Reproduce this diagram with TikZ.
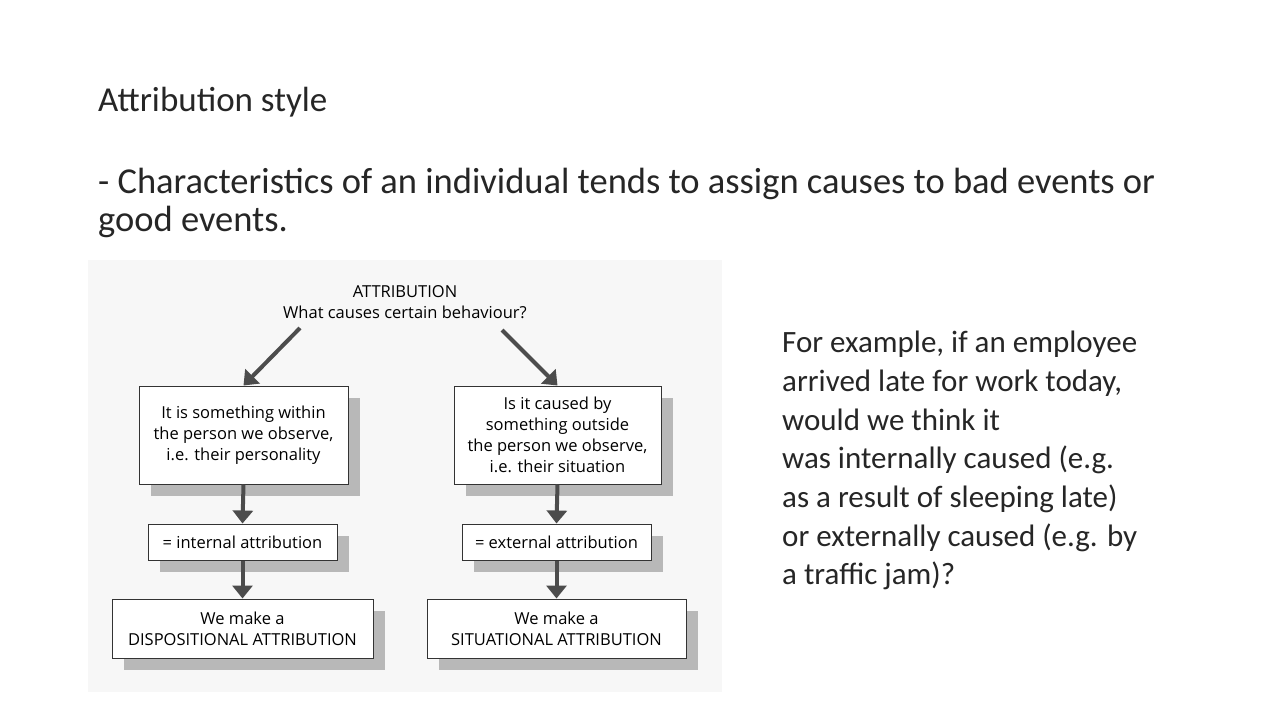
\documentclass[tikz,border=0pt]{standalone}
\usepackage{fontspec}
\setmainfont{Carlito}
\newfontfamily\diag{Open Sans}
\usetikzlibrary{arrows.meta}
\begin{document}
\begin{tikzpicture}[x=1pt,y=-1pt,
  df/.style={font=\diag\fontsize{16.5}{21}\selectfont},
  bx/.style={df,draw=black!80,line width=1pt,fill=white,align=center,inner sep=0pt},
  arr/.style={line width=4pt,draw=black!70,-{Triangle[length=13pt,width=20pt]}}]
\useasboundingbox (0,0) rectangle (1280,720);
\fill[white] (0,0) rectangle (1280,720);
\fill[black!3] (88,260) rectangle (722,692);
\node[anchor=base west,inner sep=0pt,font=\fontsize{35}{40}\selectfont,text=black!85] (title) at (98,111) {Attribution style};
\node[anchor=base west,inner sep=0pt,font=\fontsize{36.5}{38}\selectfont,text=black!85] (sub) at (98,193) {- Characteristics of an individual tends to assign causes to bad events or};
\node[anchor=base west,inner sep=0pt,font=\fontsize{36.5}{38}\selectfont,text=black!85] (sub2) at (98,231) {good events.};
\node[anchor=north west,align=left,font=\fontsize{31}{38.7}\selectfont,inner sep=0pt,text=black!85] (ex) at (782,331) {For example, if an employee\\arrived late for work today,\\would we think it\\was internally caused (e.g.\\as a result of sleeping late)\\or externally caused (e.g. by\\a traffic jam)?};
% shadows
\foreach \a/\b/\c/\d in {139/386/348/484,454/386/661/484,148/524/337/560,462/524/651/560,112/599/373/658,427/599/686/658}
  \fill[black!28] (\a+12,\b+12) rectangle (\c+12,\d+12);
\node[df,align=center] (top) at (405,302) {ATTRIBUTION\\What causes certain behaviour?};
\node[bx,minimum width=209pt,minimum height=98pt] (l1) at (243.5,435) {It is something within\\the person we observe,\\i.e. their personality};
\node[bx,minimum width=207pt,minimum height=98pt] (r1) at (557.5,435) {Is it caused by\\something outside\\the person we observe,\\i.e. their situation};
\node[bx,minimum width=189pt,minimum height=36pt] (l2) at (242.5,542) {= internal attribution};
\node[bx,minimum width=189pt,minimum height=36pt] (r2) at (556.5,542) {= external attribution};
\node[bx,minimum width=261pt,minimum height=59pt] (l3) at (242.5,628.5) {We make a\\DISPOSITIONAL ATTRIBUTION};
\node[bx,minimum width=259pt,minimum height=59pt] (r3) at (556.5,628.5) {We make a\\SITUATIONAL ATTRIBUTION};
\coordinate (ta) at (300,328);
\coordinate (tb) at (502,330);
\draw[arr] (ta) -- (l1.north);
\draw[arr] (tb) -- (r1.north);
\draw[arr] (l1.south) -- (l2.north);
\draw[arr] (r1.south) -- (r2.north);
\draw[arr] (l2.south) -- (l3.north);
\draw[arr] (r2.south) -- (r3.north);
\end{tikzpicture}
\end{document}
